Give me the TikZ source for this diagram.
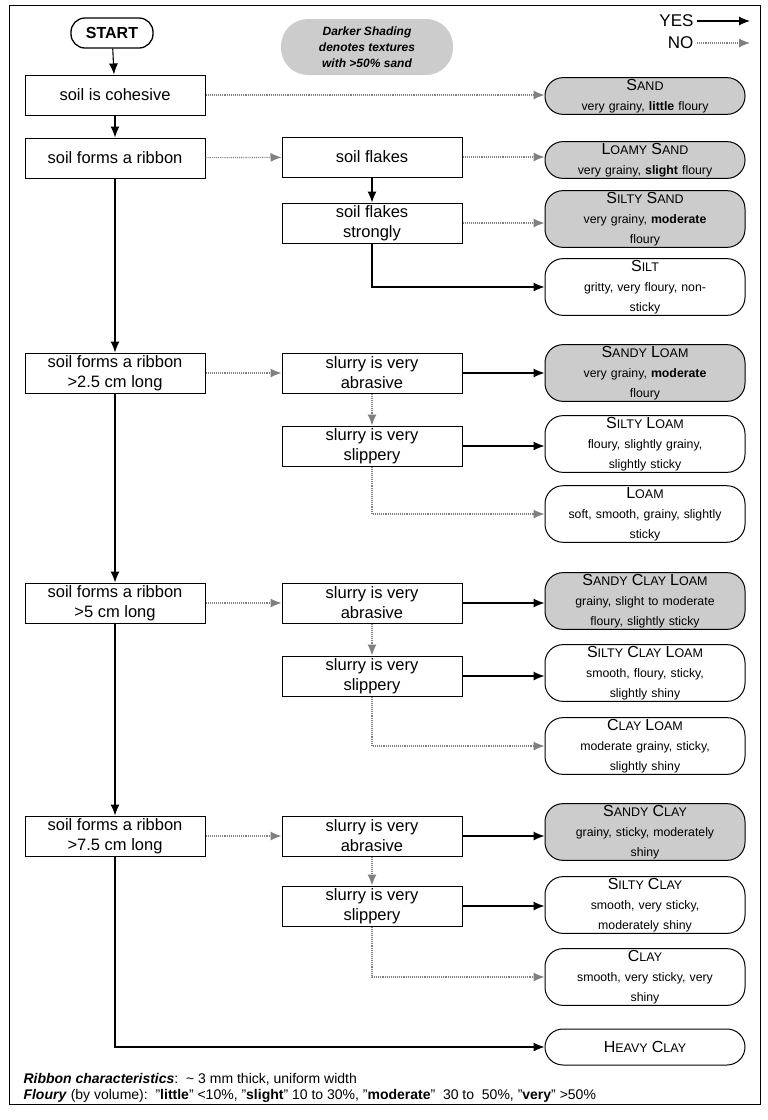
\documentclass[tikz,border=0pt]{standalone}
\usepackage{fontspec}
\setmainfont{Liberation Sans}
\usetikzlibrary{arrows.meta}
\newcommand\Cp[1]{{\fontsize{16}{16}\selectfont #1}}
\newcommand\Lw[1]{{\fontsize{12.5}{13}\selectfont #1}}
\begin{document}
\begin{tikzpicture}[x=1pt,y=-1pt,
 q/.style={draw,line width=1pt,minimum width=180,minimum height=40,align=center,font=\fontsize{16.5}{20}\selectfont,inner sep=1pt},
 r/.style={draw,line width=1pt,rounded corners=18,minimum width=200,text width=194,align=center,font=\fontsize{12.3}{20}\selectfont,inner sep=1.5pt},
 g/.style={fill=black!20},
 yes/.style={line width=1.1pt,-{Latex[length=11,width=9]}},
 no/.style={line width=1.1pt,densely dotted,gray,-{Latex[length=11,width=9]}}]
\useasboundingbox (0,0) rectangle (768,1120);
\draw[line width=1pt] (9,5) rectangle (760,1104);
\node[draw,line width=1.3pt,rounded corners=14,minimum width=82,minimum height=30,font=\bfseries\fontsize{16}{16}\selectfont] (start) at (112,33) {START};
\node[fill=black!20,rounded corners=27,minimum width=172,minimum height=56,align=center,font=\bfseries\itshape\fontsize{12}{16}\selectfont] (leg) at (367,47) {Darker Shading\\denotes textures\\with >50\% sand};
\node[font=\fontsize{17}{17}\selectfont,anchor=east] (yes) at (697,21) {YES};
\node[font=\fontsize{17}{17}\selectfont,anchor=east] (nol) at (697,43) {NO};
\coordinate (ye) at (750,21); \coordinate (ne) at (750,43);
\draw[yes] (yes) -- (ye);
\draw[no] (nol) -- (ne);
% left column
\node[q] (c1) at (115,95) {soil is cohesive};
\node[q] (c2) at (115,158) {soil forms a ribbon};
\node[q] (c3) at (115,373) {soil forms a ribbon\\>2.5 cm long};
\node[q] (c4) at (115,603) {soil forms a ribbon\\>5 cm long};
\node[q] (c5) at (115,836) {soil forms a ribbon\\>7.5 cm long};
% middle
\node[q] (f1) at (372,157) {soil flakes};
\node[q] (f2) at (372,223) {soil flakes\\strongly};
\node[q] (a1) at (372,373) {slurry is very\\abrasive};
\node[q] (s1) at (372,446) {slurry is very\\slippery};
\node[q] (a2) at (372,603) {slurry is very\\abrasive};
\node[q] (s2) at (372,676) {slurry is very\\slippery};
\node[q] (a3) at (372,836) {slurry is very\\abrasive};
\node[q] (s3) at (372,906) {slurry is very\\slippery};
% right
\node[r,g] (t1) at (645,96) {\Cp{S}\Lw{AND}\\very grainy, \textbf{little} floury};
\node[r,g] (t2) at (645,160) {\Cp{L}\Lw{OAMY} \Cp{S}\Lw{AND}\\very grainy, \textbf{slight} floury};
\node[r,g] (t3) at (645,219) {\Cp{S}\Lw{ILTY} \Cp{S}\Lw{AND}\\very grainy, \textbf{moderate}\\floury};
\node[r] (t4) at (645,287) {\Cp{S}\Lw{ILT}\\gritty, very floury, non-\\sticky};
\node[r,g] (t5) at (645,373) {\Cp{S}\Lw{ANDY} \Cp{L}\Lw{OAM}\\very grainy, \textbf{moderate}\\floury};
\node[r] (t6) at (645,444) {\Cp{S}\Lw{ILTY} \Cp{L}\Lw{OAM}\\floury, slightly grainy,\\slightly sticky};
\node[r] (t7) at (645,514) {\Cp{L}\Lw{OAM}\\soft, smooth, grainy, slightly\\sticky};
\node[r,g] (t8) at (645,601) {\Cp{S}\Lw{ANDY} \Cp{C}\Lw{LAY} \Cp{L}\Lw{OAM}\\grainy, slight to moderate\\floury, slightly sticky};
\node[r] (t9) at (645,673) {\Cp{S}\Lw{ILTY} \Cp{C}\Lw{LAY} \Cp{L}\Lw{OAM}\\smooth, floury, sticky,\\slightly shiny};
\node[r] (t10) at (645,746) {\Cp{C}\Lw{LAY} \Cp{L}\Lw{OAM}\\moderate grainy, sticky,\\slightly shiny};
\node[r,g] (t11) at (645,832) {\Cp{S}\Lw{ANDY} \Cp{C}\Lw{LAY}\\grainy, sticky, moderately\\shiny};
\node[r] (t12) at (645,905) {\Cp{S}\Lw{ILTY} \Cp{C}\Lw{LAY}\\smooth, very sticky,\\moderately shiny};
\node[r] (t13) at (645,977) {\Cp{C}\Lw{LAY}\\smooth, very sticky, very\\shiny};
\node[r,minimum height=36] (t14) at (645,1047) {\Cp{H}\Lw{EAVY} \Cp{C}\Lw{LAY}};
% connectors
\draw[yes] (start) -- (c1);
\draw[no] (c1) -- (c1 -| t1.west);
\draw[yes] (c1) -- (c2);
\draw[no] (c2) -- (f1);
\draw[no] (f1) -- (f1 -| t2.west);
\draw[yes] (f1) -- (f2);
\draw[no] (f2) -- (f2 -| t3.west);
\draw[yes] (f2.south) |- (t4.west);
\draw[yes] (c2) -- (c3);
\draw[no] (c3) -- (a1);
\draw[yes] (a1) -- (a1 -| t5.west);
\draw[no] (a1) -- (s1);
\draw[yes] (s1) -- (s1 -| t6.west);
\draw[no] (s1.south) |- (t7.west);
\draw[yes] (c3) -- (c4);
\draw[no] (c4) -- (a2);
\draw[yes] (a2) -- (a2 -| t8.west);
\draw[no] (a2) -- (s2);
\draw[yes] (s2) -- (s2 -| t9.west);
\draw[no] (s2.south) |- (t10.west);
\draw[yes] (c4) -- (c5);
\draw[no] (c5) -- (a3);
\draw[yes] (a3) -- (a3 -| t11.west);
\draw[no] (a3) -- (s3);
\draw[yes] (s3) -- (s3 -| t12.west);
\draw[no] (s3.south) |- (t13.west);
\draw[yes] (c5.south) |- (t14.west);
\node[anchor=west,font=\fontsize{14}{16}\selectfont] (n1) at (20,1079) {\textbf{\textit{Ribbon characteristics}}:\ \ \textasciitilde\ 3 mm thick, uniform width};
\node[anchor=west,font=\fontsize{14}{16}\selectfont] (n2) at (20,1096) {\textbf{\textit{Floury}} (by volume):\ \ "\textbf{little}" <10\%, "\textbf{slight}" 10 to 30\%, "\textbf{moderate}"\ \ 30 to\ \ 50\%, "\textbf{very}" >50\%};
\end{tikzpicture}
\end{document}
